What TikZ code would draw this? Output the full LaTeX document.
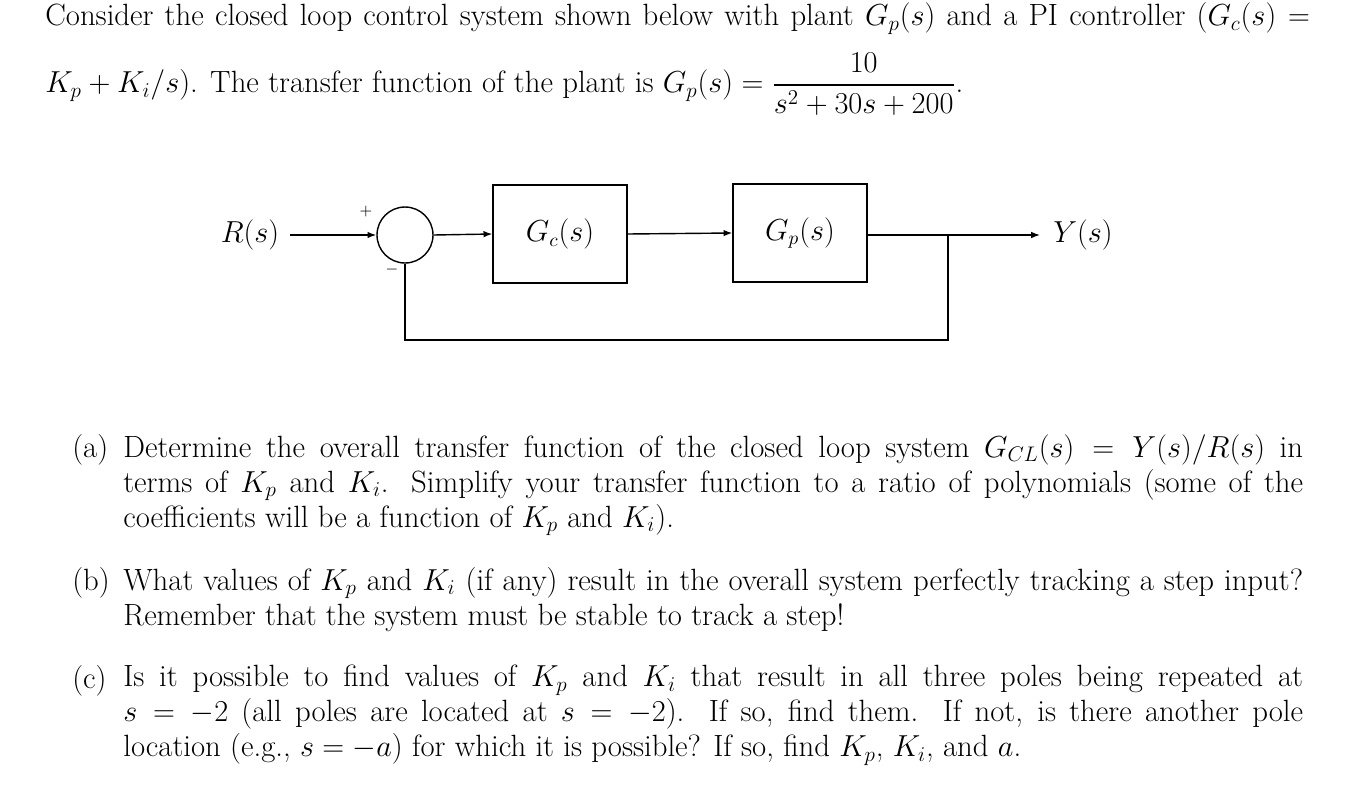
\documentclass[tikz,border=0pt]{standalone}
\usepackage{amsmath}
\usetikzlibrary{arrows.meta}
\begin{document}
\begin{tikzpicture}[x=0.02cm,y=-0.02cm,
  blk/.style={draw,thick,minimum width=2.68cm,minimum height=1.96cm,font=\fontsize{16}{18}\selectfont},
  sig/.style={thick,-{Latex[length=5pt]}},
  wire/.style={thick},
  par/.style={anchor=north west,inner sep=0pt,text width=23.6cm,align=justify,font=\fontsize{17.5}{19.9}\selectfont},
  lab/.style={anchor=north west,inner sep=0pt,font=\fontsize{17.5}{19.9}\selectfont},
  dl/.style={font=\fontsize{16}{18}\selectfont}]
\useasboundingbox (0,0) rectangle (1357,798);
\node[anchor=west,inner sep=0pt,text width=25.3cm,align=justify,font=\fontsize{17.5}{20}\selectfont] (l1) at (45,32) {Consider the closed loop control system shown below with plant $G_p(s)$ and a PI controller ($G_c(s)=$\linebreak};
\node[anchor=west,inner sep=0pt,font=\fontsize{17.5}{20}\selectfont] (l2) at (45,84) {$K_p+K_i/s$). The transfer function of the plant is $G_p(s)=\dfrac{10}{s^2+30s+200}$.};
% diagram
\node[dl] (R) at (250,235) {$R(s)$};
\node[draw,thick,circle,minimum size=1.12cm,inner sep=0pt] (sum) at (405,235) {};
\node[blk] (gc) at (560,234) {$G_c(s)$};
\node[blk] (gp) at (800,233) {$G_p(s)$};
\node[dl] (Y) at (1083,235) {$Y(s)$};
\coordinate (o) at (1040,235);
\coordinate (br) at (948,235);
\draw[sig] (R.east) ++(5,0) -- (sum.west);
\draw[sig] (sum.east) -- (gc.west);
\draw[sig] (gc.east) -- (gp.west);
\draw[sig] (gp.east|-Y) -- (o);
\draw[wire] (br) -- (948,340) -- (405,340) -- (sum.south);
\node[font=\small\bfseries] (plus) at (366,212) {$+$};
\node[font=\small\bfseries] (minus) at (392,270) {$-$};
% parts
\node[lab] (a) at (72,434) {(a)};
\node[par] (ta) at (123,434) {Determine the overall transfer function of the closed loop system $G_{CL}(s)=Y(s)/R(s)$ in\linebreak terms of $K_p$ and $K_i$. Simplify your transfer function to a ratio of polynomials (some of the\linebreak coefficients will be a function of $K_p$ and $K_i$).};
\node[lab] (b) at (72,567) {(b)};
\node[par] (tb) at (123,567) {What values of $K_p$ and $K_i$ (if any) result in the overall system perfectly tracking a step input?\linebreak Remember that the system must be stable to track a step!};
\node[lab] (c) at (72,665) {(c)};
\node[par] (tc) at (123,665) {Is it possible to find values of $K_p$ and $K_i$ that result in all three poles being repeated at\linebreak $s=-2$ (all poles are located at $s=-2$). If so, find them. If not, is there another pole\linebreak location (e.g., $s=-a$) for which it is possible? If so, find $K_p$, $K_i$, and $a$.};
\end{tikzpicture}
\end{document}
